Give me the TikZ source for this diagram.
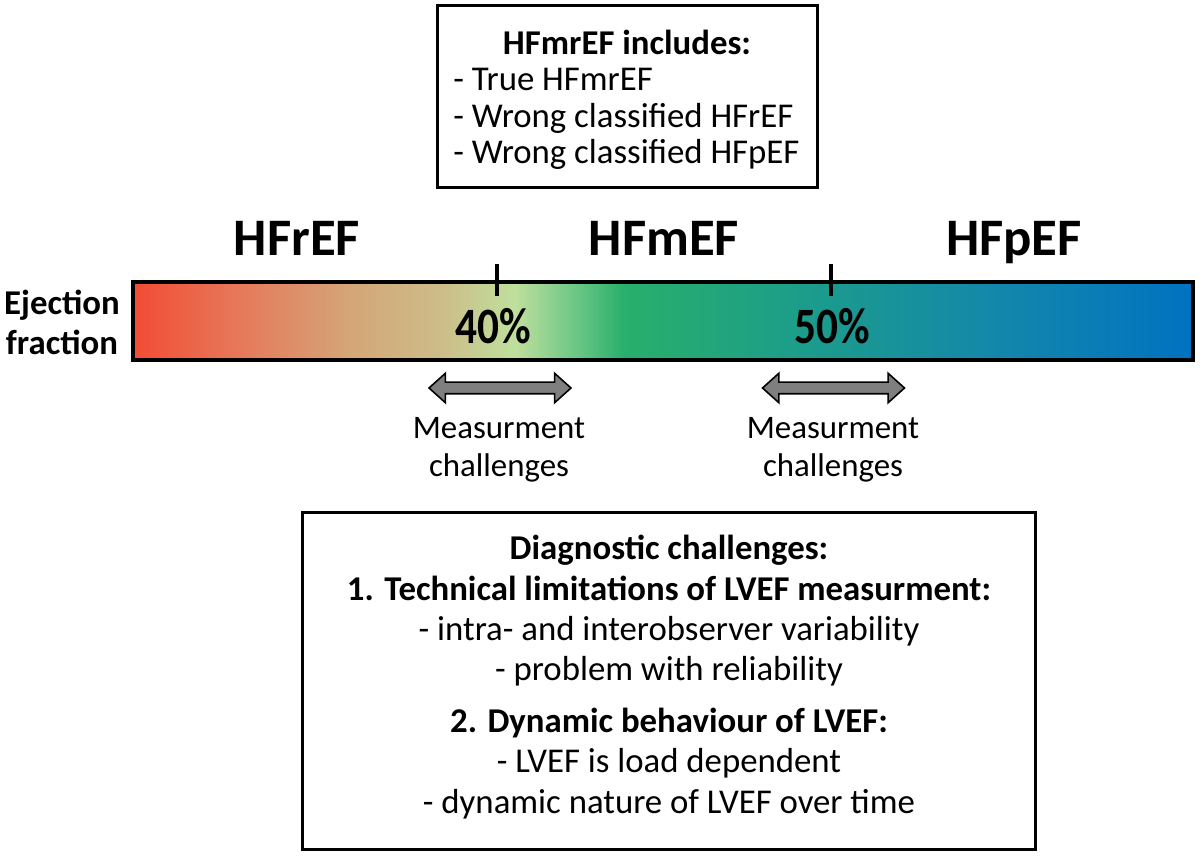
\documentclass[tikz,border=0pt]{standalone}
\usepackage{fontspec}
\setmainfont{Carlito}
\usetikzlibrary{shapes.arrows}
\definecolor{efred}{HTML}{F24C34}
\definecolor{efcoral}{HTML}{E6795A}
\definecolor{eftan}{HTML}{D4A678}
\definecolor{efsand}{HTML}{CDBC88}
\definecolor{efpale}{HTML}{BFDF9D}
\definecolor{efmint}{HTML}{6CC786}
\definecolor{efgreen}{HTML}{28AF6B}
\definecolor{efteal}{HTML}{1C9D8A}
\definecolor{efsea}{HTML}{1488AA}
\definecolor{efblue}{HTML}{0072C1}
\definecolor{arrowgrey}{HTML}{7F7F7F}
% ejection fraction colour scale
\pgfdeclarehorizontalshading{efshade}{100bp}{color(0bp)=(efred); color(25bp)=(efred);
  color(30.05bp)=(efcoral); color(35.24bp)=(eftan); color(39.48bp)=(efsand);
  color(43.02bp)=(efpale); color(45.85bp)=(efmint); color(48.2bp)=(efgreen);
  color(56.46bp)=(efteal); color(65.42bp)=(efsea); color(75bp)=(efblue); color(100bp)=(efblue)}

\begin{document}
\begin{tikzpicture}[x=0.02cm,y=-0.02cm,line join=miter,
  frame/.style={draw=black,line width=1.7pt,inner sep=0pt},
  bodytext/.style={font=\fontsize{19.8}{22.7}\selectfont,inner sep=0pt},
  bigtag/.style={font=\fontsize{30}{36}\selectfont\bfseries,inner sep=0pt,anchor=base},
  pcttag/.style={font=\fontsize{29}{34}\selectfont\bfseries,inner sep=0pt,anchor=base,xscale=0.85},
  measarrow/.style={double arrow,draw=black,line width=0.9pt,fill=arrowgrey,
    minimum height=2.84cm,minimum width=0.56cm,inner xsep=0pt,inner ysep=0.1cm,
    double arrow head extend=0.18cm,double arrow tip angle=84},
  measnote/.style={font=\fontsize{18.7}{21.5}\selectfont,align=center,inner sep=0pt}]
\useasboundingbox (0,0) rectangle (1200,857);

% box on top
\node[frame,minimum width=7.62cm,minimum height=3.66cm] (incbox) at (627.5,96.5) {};
\node[bodytext,font=\fontsize{19.8}{22.7}\selectfont\bfseries,anchor=base] (inchead) at (627,55) {HFmrEF includes:};
\node[bodytext,font=\fontsize{19.8}{20.7}\selectfont,align=left,anchor=north west] (inclist) at (453,68)
  {- True HFmrEF\\- Wrong classified HFrEF\\- Wrong classified HFpEF};

% classes
\node[bigtag] (hfr) at (297,256) {HFrEF};
\node[bigtag] (hfm) at (664,256) {HFmEF};
\node[bigtag] (hfp) at (1014,256) {HFpEF};

% the bar
\node[frame,line width=2.3pt,shade,shading=efshade,minimum width=21.2cm,minimum height=1.56cm] (bar) at (663,321) {};
\draw[line width=2pt] (497,264) -- (497,296);
\draw[line width=2pt] (831,264) -- (831,296);
\node[bodytext,font=\fontsize{19.8}{22.7}\selectfont\bfseries,align=center] (eflabel) at (62,322) {Ejection\\fraction};
\node[pcttag] (p40) at (493,344) {40\%};
\node[pcttag] (p50) at (832,344) {50\%};

% measurement arrows
\node[measarrow] (arrl) at (500,388) {};
\node[measarrow] (arrr) at (833.5,388) {};
\node[measnote] (notel) at (499,450) {Measurment\\challenges};
\node[measnote] (noter) at (833,450) {Measurment\\challenges};

% box at bottom
\node[frame,minimum width=14.68cm,minimum height=6.76cm] (diagbox) at (669,681) {};
\node[bodytext,font=\fontsize{19.8}{23}\selectfont,align=center] (diagtext) at (669,677)
  {\textbf{Diagnostic challenges:}\\
   \textbf{1. Technical limitations of LVEF measurment:}\\
   - intra- and interobserver variability\\
   - problem with reliability\\[6.2pt]
   \textbf{2. Dynamic behaviour of LVEF:}\\
   - LVEF is load dependent\\
   - dynamic nature of LVEF over time};
\end{tikzpicture}
\end{document}
